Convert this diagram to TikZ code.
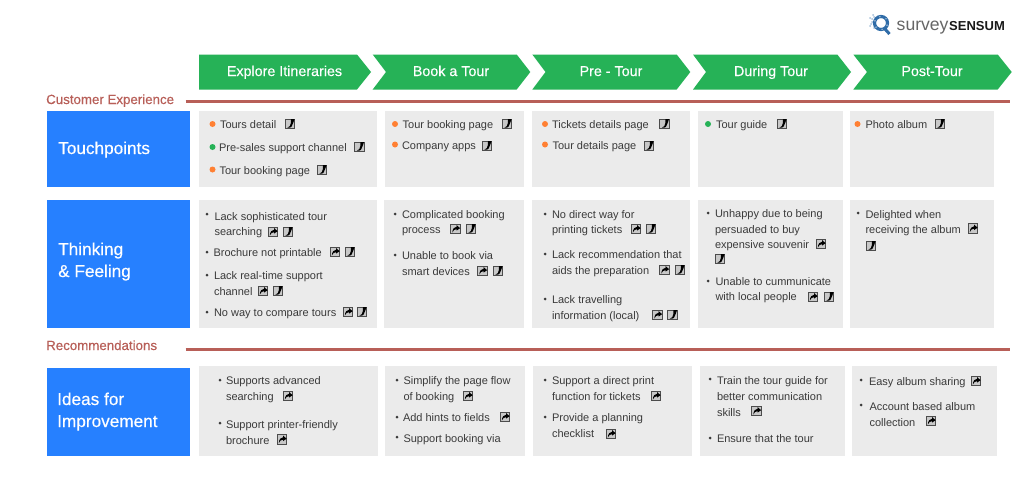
\documentclass[tikz,border=0pt]{standalone}
\usepackage{fontspec}
\setmainfont{Liberation Sans}
\newfontfamily\medf[FakeBold=0.35]{Liberation Sans}
\definecolor{grn}{HTML}{26B257}
\definecolor{blu}{HTML}{2680FF}
\definecolor{gry}{HTML}{EBEBEB}
\definecolor{rd}{HTML}{B85F58}
\definecolor{org}{HTML}{FF8033}
\definecolor{ink}{HTML}{3A3A3A}
\definecolor{lg}{HTML}{2F6CA8}
\newcounter{tn}
\newcommand{\tl}[3]{\stepcounter{tn}\node[txt] (t\thetn) at (#1,#2) {#3};}
\newcommand{\bu}[2]{\fill[ink] (#1,#2) circle (1.5);}
\newcommand{\dt}[3]{\fill[#1] (#2,#3) circle (3);}
\newcommand{\ia}[2]{\pic at (#1,#2) {sharei};}
\newcommand{\ib}[2]{\pic at (#1,#2) {notei};}
\newcommand{\gbox}[4]{\fill[gry] (#1,#3) rectangle (#2,#4);}
\newcommand{\chev}[7]{\fill[grn] (#1,54.5) -- (#3,54.5) -- (#4,72) -- (#3,89.5) -- (#1,89.5) -- (#2,72) -- cycle; \node[arrtxt] (#6) at (#7,76) {#5};}
\tikzset{
  txt/.style={anchor=base west,inner sep=0pt,outer sep=0pt,text=ink,font=\fontsize{11}{14}\selectfont},
  arrtxt/.style={anchor=base,inner sep=0pt,text=white,font=\fontsize{14.3}{16}\medf},
  headtxt/.style={anchor=base west,inner sep=0pt,text=rd,font=\fontsize{13.3}{15}\medf},
  bluetxt/.style={anchor=base west,inner sep=0pt,text=white,font=\fontsize{17.2}{22}\medf},
  rline/.style={draw=rd,line width=3pt},
  sharei/.pic={\draw[fill=gry!85!black,draw=black!70,line width=.7pt] (-4.7,-4.7) rectangle (4.7,4.7);
    \fill[black] (-3.2,3.6) .. controls (-3,-0.5) and (-1,-2) .. (1,-2.2) -- (1,-4) -- (4.6,-0.8) -- (1,1.6) -- (1,0.2) .. controls (-1,0.2) and (-2.4,1.4) .. (-3.2,3.6) -- cycle;},
  notei/.pic={\draw[fill=gry!85!black,draw=black!70,line width=.7pt] (-4.7,-4.7) rectangle (4.7,4.7);
    \fill[black] (-2.6,3.6) .. controls (-0.5,3.2) and (0.6,1.5) .. (0.8,-0.8) -- (1,-4.8) -- (4.6,-5) -- (3,-0.6) .. controls (3,2) and (0.6,4.6) .. (-2.6,3.6) -- cycle;},
}
\begin{document}
\begin{tikzpicture}[x=1pt,y=-1pt]
\useasboundingbox (0,0) rectangle (1024,477);
\fill[white] (0,0) rectangle (1024,477);
% logo
\foreach \p/\q in {870/18,872/22,870/26,873/15,874/28,871/24,875/20,875/25,872/19,874/17}{\fill[lg!45] (\p,\q) circle (1);}
\draw[lg,line width=3.2pt] (881,23) circle (6.5);
\foreach \a in {20,80,...,340}{\fill[lg!50] ({881+6.5*cos(\a)},{23+6.5*sin(\a)}) circle (0.9);}
\draw[lg,line width=3pt] (885,29) -- (889.5,34);
\node[anchor=base west,inner sep=0pt,text=black!60,font=\fontsize{17.6}{20}\selectfont] (logoa) at (896.5,30) {survey};
\node[anchor=base west,inner sep=0pt,text=black!90,font=\fontsize{13}{16}\selectfont\bfseries] (logob) at (949,30) {SENSUM};
% chevrons
\chev{199}{199}{357}{371}{Explore Itineraries}{a1}{284.5}
\chev{372.7}{386}{516.7}{530.3}{Book a Tour}{a2}{451}
\chev{532.3}{545.5}{676.7}{690.3}{Pre - Tour}{a3}{611}
\chev{693}{706}{837.3}{851}{During Tour}{a4}{771}
\chev{853.3}{867}{997.7}{1011.7}{Post-Tour}{a5}{932}
% headings
\node[headtxt] (h1) at (46,104) {Customer Experience};
\node[headtxt] (h2) at (46,350) {Recommendations};
\coordinate (l1a) at (185.5,101); \coordinate (l1b) at (1010,101);
\coordinate (l2a) at (185.5,349); \coordinate (l2b) at (1010,349);
\draw[rline] (l1a) -- (l1b);
\draw[rline] (l2a) -- (l2b);
% blue
\fill[blu] (46.5,111) rectangle (190,187);
\fill[blu] (46.5,200) rectangle (190,327.5);
\fill[blu] (46.5,367.5) rectangle (190,456);
\node[bluetxt] (b1) at (58,154) {Touchpoints};
\node[bluetxt] (b2) at (58,255) {Thinking};
\node[bluetxt] (b3) at (58,277) {\& Feeling};
\node[bluetxt] (b4) at (57,405) {Ideas for};
\node[bluetxt] (b5) at (57,427) {Improvement};
% grey
\gbox{199}{376.5}{111}{187}\gbox{384.5}{523.7}{111}{187}\gbox{531.7}{690.3}{111}{187}\gbox{697.7}{842.7}{111}{187}\gbox{849.5}{994}{111}{187}
\gbox{198.5}{376.7}{200}{327.5}\gbox{384.3}{523.7}{200}{327.5}\gbox{531.7}{690}{200}{327.5}\gbox{698}{842.7}{200}{327.5}\gbox{849.7}{994}{200}{327.5}
\gbox{199}{377.5}{366}{456.3}\gbox{385}{525}{366}{456.3}\gbox{533}{692}{366}{456.3}\gbox{700}{845}{366}{456.3}\gbox{852}{997}{366}{456.3}
% touchpoints
\dt{org}{212.5}{124}\tl{220}{128}{Tours detail}\ib{290}{124}
\dt{grn}{212.5}{147}\tl{219}{151}{Pre-sales support channel}\ib{359.5}{147}
\dt{org}{212.5}{169.5}\tl{219.5}{174}{Tour booking page}\ib{322}{170}
\dt{org}{395}{124}\tl{402.7}{128}{Tour booking page}\ib{507}{124}
\dt{org}{395}{144.5}\tl{402}{149}{Company apps}\ib{487}{146}
\dt{org}{545}{124}\tl{552}{128}{Tickets details page}\ib{664.5}{124}
\dt{org}{545}{144.5}\tl{552.5}{149}{Tour details page}\ib{649}{146}
\dt{grn}{708}{124}\tl{716}{128}{Tour guide}\ib{782}{124}
\dt{org}{857.5}{124}\tl{865.5}{128.5}{Photo album}\ib{940}{124}
% thinking c1
\bu{207}{214}\tl{214.5}{220}{Lack sophisticated tour}\tl{214.5}{235}{searching}\ia{273}{232}\ib{288}{232}
\bu{207}{252}\tl{213.5}{256.5}{Brochure not printable}\ia{335}{252}\ib{350}{252}
\bu{207}{275}\tl{214}{279.5}{Lack real-time support}\tl{214}{295}{channel}\ia{263}{291}\ib{278}{291}
\bu{207}{312}\tl{214}{316}{No way to compare tours}\ia{348}{312}\ib{362}{312}
% c2
\bu{395}{214}\tl{402}{218}{Complicated booking}\tl{402}{233.5}{process}\ia{455.5}{229}\ib{471}{229}
\bu{395}{255}\tl{402}{259.5}{Unable to book via}\tl{402}{275}{smart devices}\ia{482.5}{271}\ib{498}{271}
% c3
\bu{545}{214}\tl{552}{218}{No direct way for}\tl{552}{233.5}{printing tickets}\ia{636}{229}\ib{651}{229}
\bu{545}{254}\tl{552}{258.5}{Lack recommendation that}\tl{552}{274}{aids the preparation}\ia{664.5}{270}\ib{680}{270}
\bu{545}{299}\tl{552}{303}{Lack travelling}\tl{552}{319}{information (local)}\ia{657.5}{315}\ib{672.5}{315}
% c4
\bu{708}{213}\tl{715}{217.5}{Unhappy due to being}\tl{715}{233}{persuaded to buy}\tl{715}{248}{expensive souvenir}\ia{821}{244}\ib{720}{259}
\bu{708}{281}\tl{715.5}{285}{Unable to cummunicate}\tl{715.5}{300.5}{with local people}\ia{813}{297}\ib{829}{297}
% c5
\bu{858}{213}\tl{865.5}{218}{Delighted when}\tl{865.5}{233.5}{receiving the album}\ia{973}{228.5}\ib{871}{246}
% ideas
\bu{220}{380}\tl{226}{384}{Supports advanced}\tl{226}{400}{searching}\ia{288}{396}
\bu{220}{423}\tl{226}{428}{Support printer-friendly}\tl{226}{444}{brochure}\ia{282}{439.5}
\bu{397}{380}\tl{403.5}{384}{Simplify the page flow}\tl{403.5}{400}{of booking}\ia{468}{396}
\bu{397}{417}\tl{403}{421.5}{Add hints to fields}\ia{505}{417}
\bu{397}{437}\tl{403.5}{442}{Support booking via}
\bu{545}{380}\tl{552}{384}{Support a direct print}\tl{552}{400}{function for tickets}\ia{656}{396}
\bu{545}{417}\tl{552}{421}{Provide a planning}\tl{552}{437}{checklist}\ia{611}{434}
\bu{710}{379}\tl{717}{384}{Train the tour guide for}\tl{717}{400}{better communication}\tl{717}{416}{skills}\ia{756.5}{411}
\bu{710}{438}\tl{717}{442}{Ensure that the tour}
\bu{861}{380}\tl{869}{385}{Easy album sharing}\ia{976}{381}
\bu{861}{405}\tl{869.5}{410}{Account based album}\tl{869.5}{426}{collection}\ia{931}{421}
\end{tikzpicture}
\end{document}
